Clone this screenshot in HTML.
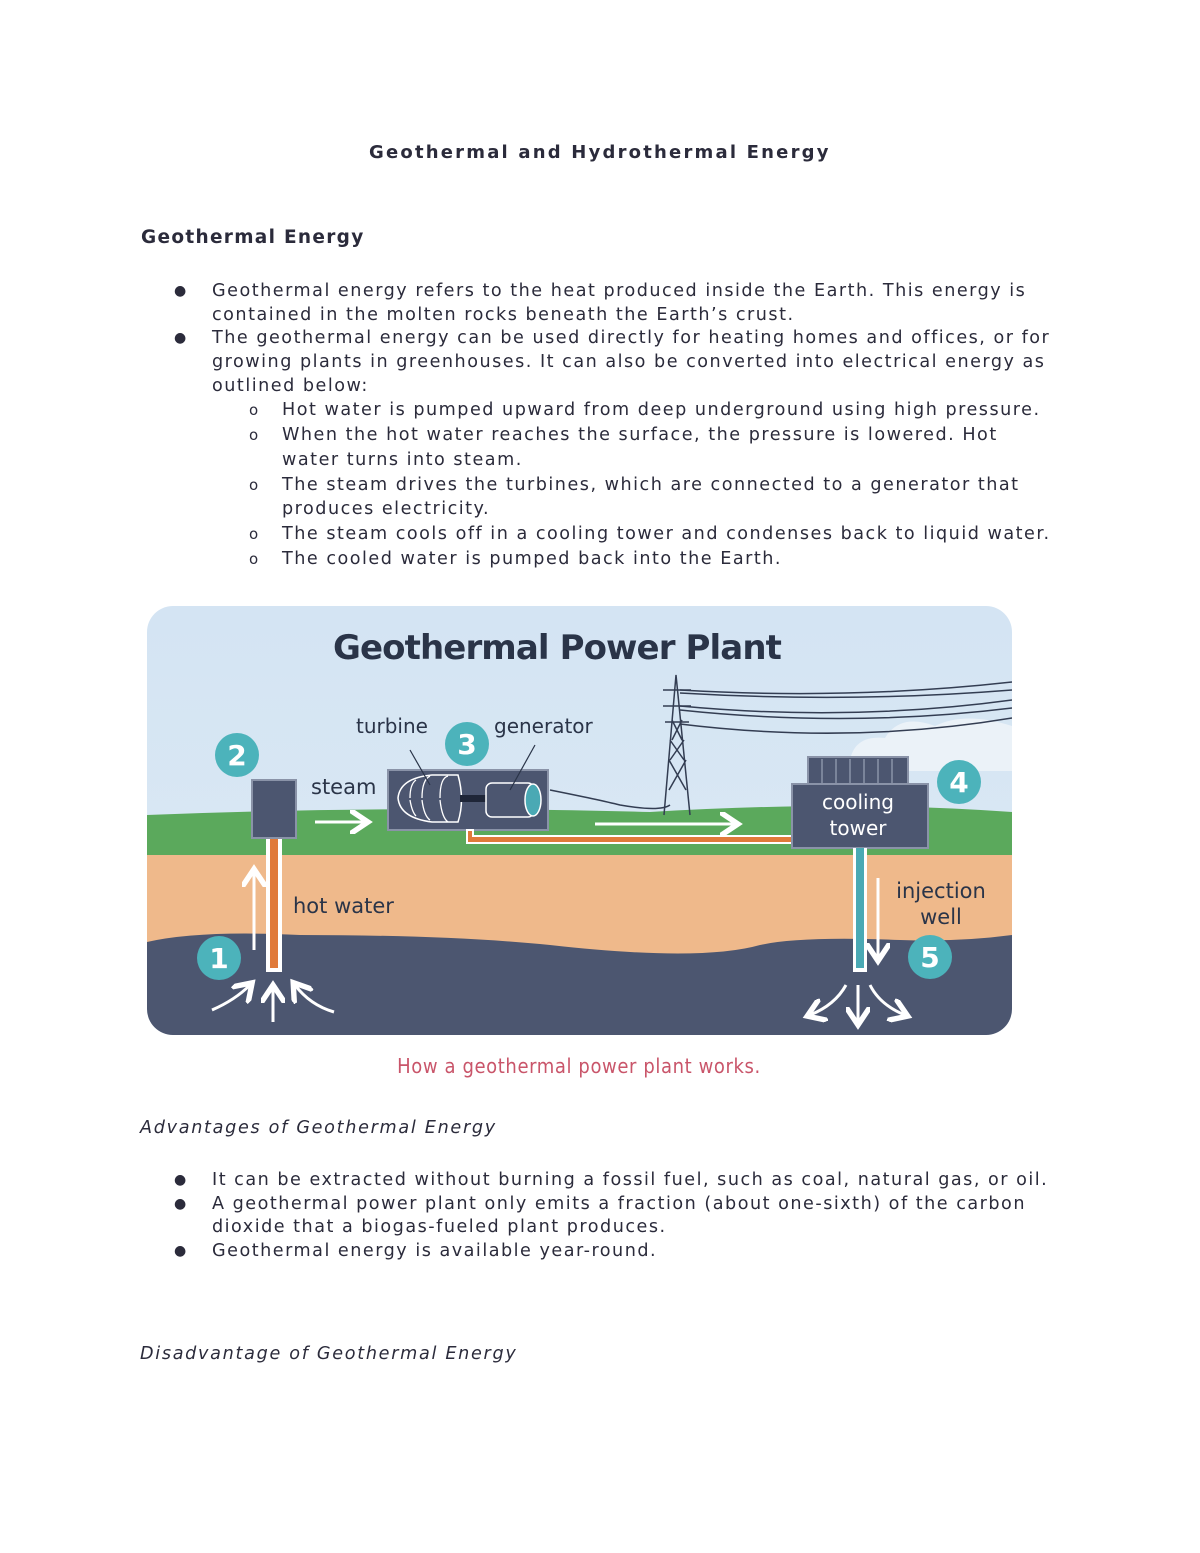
<!DOCTYPE html>
<html><head><meta charset="utf-8"><style>
body{margin:0;width:1200px;height:1553px;background:#fff;position:relative;overflow:hidden;font-family:"DejaVu Sans","Liberation Sans",sans-serif;color:#2b2b3b}
.t{position:absolute;white-space:nowrap;font-size:17.6px;line-height:24px;letter-spacing:1.5px}
.b{position:absolute;font-size:14px}
.o{position:absolute;font-size:15px}
</style></head><body>
<div class="t" style="left:369px;top:141px;font-weight:bold;letter-spacing:2.2px;font-size:18px">Geothermal and Hydrothermal Energy</div>
<div class="t" style="left:141px;top:226px;font-weight:bold;letter-spacing:1.3px;font-size:18.5px">Geothermal Energy</div>

<div class="b" style="left:174px;top:283px">●</div>
<div class="t" style="left:212px;top:279px">Geothermal energy refers to the heat produced inside the Earth. This energy is</div>
<div class="t" style="left:212px;top:303px">contained in the molten rocks beneath the Earth’s crust.</div>
<div class="b" style="left:174px;top:330px">●</div>
<div class="t" style="left:212px;top:326px">The geothermal energy can be used directly for heating homes and offices, or for</div>
<div class="t" style="left:212px;top:350px">growing plants in greenhouses. It can also be converted into electrical energy as</div>
<div class="t" style="left:212px;top:374px">outlined below:</div>
<div class="o" style="left:249px;top:401px">o</div>
<div class="t" style="left:282px;top:398px">Hot water is pumped upward from deep underground using high pressure.</div>
<div class="o" style="left:249px;top:426px">o</div>
<div class="t" style="left:282px;top:423px">When the hot water reaches the surface, the pressure is lowered. Hot</div>
<div class="t" style="left:282px;top:448px">water turns into steam.</div>
<div class="o" style="left:249px;top:476px">o</div>
<div class="t" style="left:282px;top:473px">The steam drives the turbines, which are connected to a generator that</div>
<div class="t" style="left:282px;top:497px">produces electricity.</div>
<div class="o" style="left:249px;top:525px">o</div>
<div class="t" style="left:282px;top:522px">The steam cools off in a cooling tower and condenses back to liquid water.</div>
<div class="o" style="left:249px;top:550px">o</div>
<div class="t" style="left:282px;top:547px">The cooled water is pumped back into the Earth.</div>

<svg style="position:absolute;left:0;top:0" width="1200" height="1553" font-family="Liberation Sans, sans-serif">
<defs>
<clipPath id="c"><rect x="147" y="606" width="865" height="429" rx="26"/></clipPath>
<linearGradient id="sky" x1="0" y1="0" x2="0" y2="1"><stop offset="0" stop-color="#d4e4f3"/><stop offset="1" stop-color="#dceaf4"/></linearGradient>
<marker id="ar" markerWidth="8" markerHeight="8" refX="5" refY="4" orient="auto"><path d="M0,0 L6,4 L0,8" fill="none" stroke="#fff" stroke-width="1.8"/></marker>
</defs>
<g clip-path="url(#c)">
<rect x="147" y="606" width="865" height="429" fill="url(#sky)"/>
<path d="M850,760 q5,-25 35,-22 q15,-25 50,-12 q30,-15 77,0 v45 h-162z" fill="#ebf2f8"/>
<path d="M147,815 Q400,805 650,812 Q850,800 1012,812 V860 H147Z" fill="#5ba95c"/>
<rect x="147" y="855" width="865" height="100" fill="#efb98b"/>
<path d="M147,942 Q200,930 300,935 Q450,935 550,945 Q700,962 760,945 Q800,936 900,940 Q960,942 1012,935 V1035 H147Z" fill="#4c5670"/>
<g stroke="#333d52" fill="none" stroke-width="1.5">
<path d="M680,690 Q850,700 1012,682"/><path d="M680,693 Q850,703 1012,690"/>
<path d="M680,706 Q850,722 1012,700"/><path d="M680,710 Q850,728 1012,708"/>
<path d="M680,724 Q850,745 1012,718"/>
<path d="M664,815 L676,675 L690,815 M669,760 L686,790 M686,760 L669,790 M670,740 L684,760 M684,740 L670,760 M672,720 L682,740 M682,720 L672,740 M663,690 h28 M663,706 h28 M665,722 h24"/>
<path d="M550,790 Q600,800 620,805 Q660,812 670,805"/>
</g>
</g>
<text x="333" y="659" font-size="34" font-weight="bold" fill="#2a3448" font-family="DejaVu Sans, sans-serif" letter-spacing="-0.9">Geothermal Power Plant</text>
<rect x="266" y="838" width="16" height="134" fill="#fff"/><rect x="270" y="838" width="8" height="130" fill="#e07a3a"/>
<rect x="252" y="780" width="44" height="58" fill="#4c5670" stroke="#8a93a8" stroke-width="2"/>
<line x1="254" y1="950" x2="254" y2="872" stroke="#fff" stroke-width="3" marker-end="url(#ar)"/>
<text x="293" y="913" font-size="21" fill="#2a3448" font-family="DejaVu Sans, sans-serif">hot water</text>
<text x="311" y="794" font-size="21" fill="#2a3448" font-family="DejaVu Sans, sans-serif">steam</text>
<line x1="315" y1="822" x2="365" y2="822" stroke="#fff" stroke-width="3" marker-end="url(#ar)"/>
<rect x="388" y="770" width="160" height="60" fill="#4c5670" stroke="#8a93a8" stroke-width="2"/>
<path d="M398,798 Q400,778 432,775 L458,775 Q465,800 458,822 L432,822 Q400,818 398,798Z" fill="none" stroke="#fff" stroke-width="1.5"/>
<path d="M410,798 q0,-14 6,-18 M422,798 q0,-18 8,-22 M440,798 q0,-20 8,-22 M410,800 q2,12 6,16 M422,800 q2,16 8,20 M440,800 q2,18 8,22" stroke="#fff" fill="none" stroke-width="1.3"/>
<rect x="460" y="795" width="28" height="7" fill="#1f2638"/>
<rect x="486" y="783" width="48" height="34" rx="6" fill="#4c5670" stroke="#fff" stroke-width="1.5"/>
<ellipse cx="533" cy="800" rx="8" ry="16" fill="#4aa9b4" stroke="#fff" stroke-width="1.5"/>
<line x1="410" y1="750" x2="430" y2="785" stroke="#2a3448" stroke-width="1.2"/>
<line x1="535" y1="745" x2="510" y2="790" stroke="#2a3448" stroke-width="1.2"/>
<text x="356" y="733" font-size="20" fill="#2a3448" font-family="DejaVu Sans, sans-serif">turbine</text>
<text x="494" y="733" font-size="20" fill="#2a3448" font-family="DejaVu Sans, sans-serif">generator</text>
<path d="M467,830 V843 H795 V836 H473 V830Z" fill="#e07a3a" stroke="#fff" stroke-width="2"/>
<line x1="595" y1="824" x2="735" y2="824" stroke="#fff" stroke-width="3" marker-end="url(#ar)"/>
<rect x="808" y="757" width="100" height="28" fill="#4c5670" stroke="#8a93a8" stroke-width="2"/>
<g stroke="#8a93a8" stroke-width="1.5"><line x1="822" y1="759" x2="822" y2="783"/><line x1="836" y1="759" x2="836" y2="783"/><line x1="850" y1="759" x2="850" y2="783"/><line x1="864" y1="759" x2="864" y2="783"/><line x1="878" y1="759" x2="878" y2="783"/><line x1="892" y1="759" x2="892" y2="783"/></g>
<rect x="792" y="784" width="136" height="64" fill="#4c5670" stroke="#8a93a8" stroke-width="2"/>
<text x="858" y="809" font-size="20" fill="#fff" text-anchor="middle" font-family="DejaVu Sans, sans-serif">cooling</text>
<text x="858" y="835" font-size="20" fill="#fff" text-anchor="middle" font-family="DejaVu Sans, sans-serif">tower</text>
<rect x="853" y="848" width="14" height="124" fill="#fff"/><rect x="856" y="848" width="8" height="120" fill="#4aa9b4"/>
<line x1="878" y1="878" x2="878" y2="958" stroke="#fff" stroke-width="3" marker-end="url(#ar)"/>
<text x="941" y="898" font-size="21" fill="#2a3448" text-anchor="middle" font-family="DejaVu Sans, sans-serif">injection</text>
<text x="941" y="924" font-size="21" fill="#2a3448" text-anchor="middle" font-family="DejaVu Sans, sans-serif">well</text>
<g stroke="#fff" stroke-width="3" fill="none" marker-end="url(#ar)">
<path d="M212,1010 Q235,1000 250,985"/><line x1="273" y1="1022" x2="273" y2="988"/><path d="M334,1012 Q310,1005 295,985"/>
<path d="M846,985 Q835,1005 810,1015"/><line x1="858" y1="985" x2="858" y2="1022"/><path d="M870,985 Q880,1005 905,1015"/>
</g>
<g font-family="DejaVu Sans, sans-serif" font-weight="bold" font-size="28" fill="#fff" text-anchor="middle">
<circle cx="237" cy="755" r="22" fill="#4cb3bb"/><text x="237" y="765">2</text>
<circle cx="467" cy="744" r="22" fill="#4cb3bb"/><text x="467" y="754">3</text>
<circle cx="959" cy="782" r="22" fill="#4cb3bb"/><text x="959" y="792">4</text>
<circle cx="219" cy="958" r="22" fill="#4cb3bb"/><text x="219" y="968">1</text>
<circle cx="930" cy="957" r="22" fill="#4cb3bb"/><text x="930" y="967">5</text>
</g>
<text x="579" y="1073" font-size="20" fill="#c9556a" text-anchor="middle" letter-spacing="0.6" font-family="DejaVu Sans Condensed, DejaVu Sans, sans-serif">How a geothermal power plant works.</text>
</svg>

<div class="t" style="left:140px;top:1116px;font-style:italic;letter-spacing:1.7px">Advantages of Geothermal Energy</div>
<div class="b" style="left:174px;top:1172px">●</div>
<div class="t" style="left:212px;top:1168px">It can be extracted without burning a fossil fuel, such as coal, natural gas, or oil.</div>
<div class="b" style="left:174px;top:1196px">●</div>
<div class="t" style="left:212px;top:1192px">A geothermal power plant only emits a fraction (about one-sixth) of the carbon</div>
<div class="t" style="left:212px;top:1215px">dioxide that a biogas-fueled plant produces.</div>
<div class="b" style="left:174px;top:1243px">●</div>
<div class="t" style="left:212px;top:1239px">Geothermal energy is available year-round.</div>
<div class="t" style="left:140px;top:1342px;font-style:italic;letter-spacing:1.7px">Disadvantage of Geothermal Energy</div>
</body></html>
